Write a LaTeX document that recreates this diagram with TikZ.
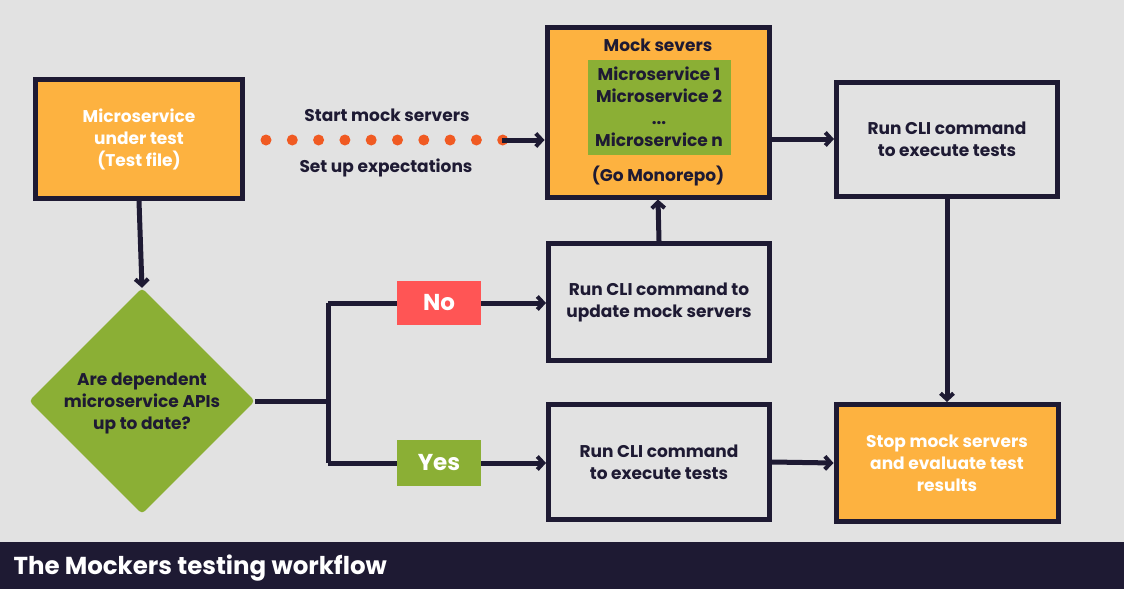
\documentclass[tikz,border=0pt]{standalone}
\usepackage{fontspec}
\setmainfont{Poppins}
\usetikzlibrary{arrows.meta,shapes.geometric}
\definecolor{bg}{HTML}{E2E2E2}
\definecolor{ink}{HTML}{1E1A33}
\definecolor{org}{HTML}{FDB240}
\definecolor{grn}{HTML}{8BAF35}
\definecolor{red}{HTML}{FF5555}
\definecolor{dot}{HTML}{F05A22}
\begin{document}
\begin{tikzpicture}[x=1pt,y=-1pt,
  box/.style={draw=ink,line width=5pt,align=center,inner sep=0pt,font=\bfseries\fontsize{17}{22}\selectfont,text=ink},
  lbl/.style={font=\bfseries\fontsize{17}{22}\selectfont,text=ink,align=center},
  conn/.style={draw=ink,line width=5pt,-{Straight Barb[length=6pt,width=13pt,line width=4pt]}},
  seg/.style={draw=ink,line width=5pt}]
\fill[bg] (0,0) rectangle (1124,589);
\useasboundingbox (0,0) rectangle (1124,589);
\fill[ink] (0,542) rectangle (1124,589);
\node[anchor=west,text=white,font=\bfseries\fontsize{24.5}{28}\selectfont] (title) at (10,568) {The Mockers testing workflow};
% boxes
\node[box,fill=org,text=white,minimum width=207pt,minimum height=119pt] (A) at (139,139) {Microservice\\under test\\(Test file)};
\node[box,fill=org,minimum width=222pt,minimum height=170pt] (M) at (658,112) {};
\node[lbl] (mt) at (658,45) {Mock severs};
\node[fill=grn,minimum width=143pt,minimum height=95pt,lbl,inner sep=0pt] (G) at (659,107) {Microservice 1\\Microservice 2\\...\\Microservice n};
\node[lbl] (mg) at (658,176) {(Go Monorepo)};
\node[box,minimum width=221pt,minimum height=114pt] (R1) at (947,139) {Run CLI command\\to execute tests};
\node[box,minimum width=221pt,minimum height=117pt] (U) at (659,302) {Run CLI command to\\update mock servers};
\node[box,minimum width=221pt,minimum height=115pt] (R2) at (659,462) {Run CLI command\\to execute tests};
\node[box,fill=org,text=white,minimum width=222pt,minimum height=117pt] (S) at (947,463) {Stop mock servers\\and evaluate test\\results};
\node[diamond,fill=grn,minimum width=226pt,minimum height=226pt,inner sep=0pt,lbl,rounded corners=4pt] (D) at (142,401) {};
\node[lbl] (dt) at (142,403) {Are dependent\\microservice APIs\\up to date?};
% dotted link
\foreach \i in {0,...,9} \fill[dot] (266+\i*26.3,140) circle (5.5pt);
\coordinate (d1) at (502,140);
\draw[conn] (d1) -- (M.west |- d1);
\node[lbl] (s1) at (387,115) {Start mock servers};
\node[lbl] (s2) at (386,168) {Set up expectations};
% arrows
\draw[conn] (A.south) -- (D.north);
\draw[conn] (M.east |- R1) -- (R1.west);
\draw[conn] (R1.south) -- (S.north);
\draw[conn] (U.north) -- (M.south);
\draw[conn] (R2.east) -- (S.west);
\coordinate (j) at (328,401);
\coordinate (jt) at (328,303);
\coordinate (jb) at (328,463);
\draw[seg] (D.east) -- (j);
\draw[seg] (jt) -- (jb);
\draw[conn] (jt) -- (U.west |- jt);
\draw[conn] (jb) -- (R2.west |- jb);
\node[fill=red,minimum width=84pt,minimum height=44pt,text=white,font=\bfseries\fontsize{23}{26}\selectfont] (no) at (439,303) {No};
\node[fill=grn,minimum width=84pt,minimum height=46pt,text=white,font=\bfseries\fontsize{23}{26}\selectfont] (yes) at (439,463) {Yes};
\end{tikzpicture}
\end{document}
